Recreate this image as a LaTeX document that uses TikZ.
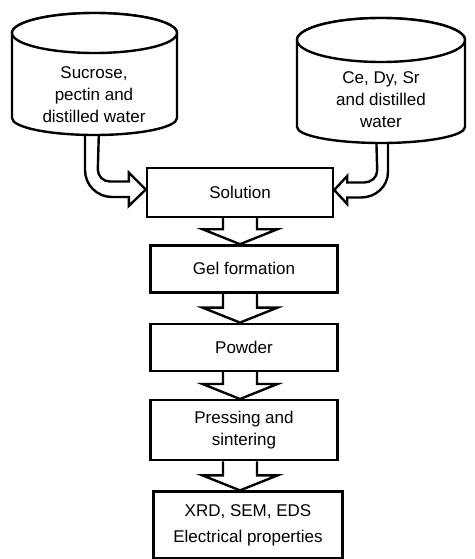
\documentclass[tikz,border=0pt]{standalone}
\usepackage{fontspec}
\setmainfont{Liberation Sans}
\usetikzlibrary{positioning,calc}

\begin{document}
\begin{tikzpicture}[x=1pt, y=1pt,
	every node/.style={align=center,
                        font=\fontsize{17}{22}\selectfont,
                        inner sep=2pt
                        },
	stepbox/.style= {draw, line width=2.4pt,
    			  minimum width=187pt,
                  minimum height=47pt
    },
    flow/.style={line width=2.4pt, line join=miter},
    pipe/.style={draw, fill=white, line width=2.4pt, line join=miter},
    tank/.style={draw, fill=white, line width=2.4pt}
]
	\useasboundingbox (0,0) rectangle (474,-559);
    % process chain
	\node (solution) [stepbox, minimum width=186pt, minimum height=49pt] at (240,-192.5) {Solution};
    \node (gel) [stepbox, below=26pt of solution, xshift=4pt] {Gel formation};
    \node (powder) [stepbox, below=29pt of gel] {Powder};
    \node (pressing) [stepbox, below=27pt of powder, minimum height=60pt] {Pressing and\\ sintering};
    \node (xrd) [stepbox, below=29pt of pressing, xshift=4pt, minimum width=189pt, minimum height=67pt] {XRD, SEM, EDS\\[4pt] Electrical properties};
    \foreach \a/\b in {solution/gel, gel/powder, powder/pressing, pressing/xrd}
    	\draw[flow] ($(\a.south -| solution)+(-17,0)$) -- ($(\b.north -| solution)+(-17,15)$) -- ++(-20.5,0) -- (\b.north -| solution) -- ++(37.5,15) -- ++(-20.5,0) -- ($(\a.south -| solution)+(17,0)$);
    % pipes from the tanks
    \coordinate (sucrose out) at (92,-128);
    \coordinate (sucrose in) at ($(solution.west)+(0,3)$);
    \coordinate (cedysr out) at (382,-128);
    \coordinate (cedysr in) at ($(solution.east)+(0,2.5)$);
    \draw[pipe] (sucrose out) ++(-7,0) -- ++(0,-42) to[out=-90,in=180] ++(27,-27) -- ($(sucrose in)+(-17,-7.5)$) -- ++(0,-9) -- (sucrose in) -- ++(-17,17) -- ++(0,-9) -- ++(-19,0) to[out=180,in=-90] ++(-12,12) -- ($(sucrose out)+(7,0)$);
    \draw[pipe] (cedysr out) ++(6,0) -- ++(0,-44) to[out=-90,in=0] ++(-27,-25.5) -- ($(cedysr in)+(13,-7.5)$) -- ++(0,-6.5) -- (cedysr in) -- ++(13,14) -- ++(0,-6.5) -- ++(17,0) to[out=0,in=-90] ++(13,12) -- ($(cedysr out)+(-6,0)$);
    % tanks
    \draw[tank] (12,-33) -- (12,-118) arc[start angle=180, end angle=360, x radius=82.5, y radius=17] -- (177,-33) arc[start angle=0, end angle=180, x radius=82.5, y radius=20] -- cycle;
    \draw[tank] (94.5,-33) ellipse[x radius=82.5, y radius=20];
    \draw[tank] (297,-40) -- (297,-127) arc[start angle=180, end angle=360, x radius=84, y radius=16] -- (465,-40) arc[start angle=0, end angle=180, x radius=84, y radius=22] -- cycle;
    \draw[tank] (381,-40) ellipse[x radius=84, y radius=22];
    \node (sucrose) at (94,-95) {Sucrose,\\ pectin and\\ distilled water};
    \node (cedysr) at (381,-100) {Ce, Dy, Sr\\ and distilled\\ water};
\end{tikzpicture}
\end{document}
